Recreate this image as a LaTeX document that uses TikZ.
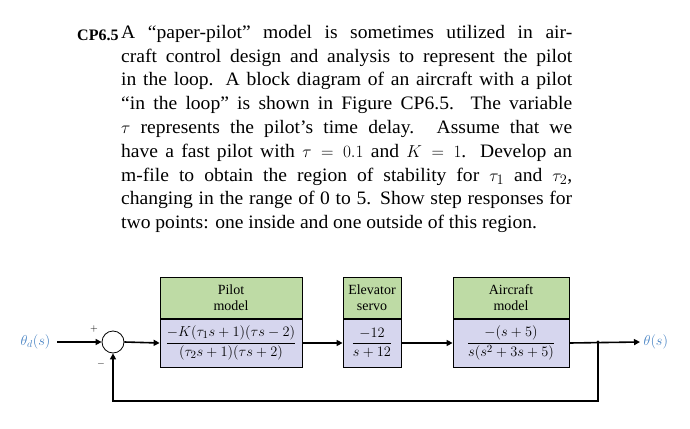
\documentclass[tikz,border=0pt]{standalone}
\usepackage{fontspec}
\setmainfont{Liberation Serif}
\usepackage{amsmath}
\usetikzlibrary{arrows.meta}
\definecolor{gtop}{RGB}{190,219,165}
\definecolor{pbot}{RGB}{214,214,238}
\definecolor{lab}{RGB}{70,130,195}
\tikzset{
  wire/.style={line width=1.6pt},
  arr/.style={wire,-{Triangle[length=6pt,width=6pt]}},
  topbox/.style={draw,line width=0.8pt,fill=gtop,minimum height=41pt,inner sep=0pt,font=\fontsize{14}{16}\selectfont,align=center},
  botbox/.style={draw,line width=0.8pt,fill=pbot,minimum height=48pt,inner sep=0pt,font=\fontsize{15.5}{17}\selectfont},
  sig/.style={text=lab,font=\fontsize{14}{16}\selectfont}
}
\begin{document}
\begin{tikzpicture}[x=1pt,y=-1pt]
\useasboundingbox (0,0) rectangle (690,428);
\node[anchor=base west,font=\fontsize{16}{22}\selectfont\bfseries,inner sep=0pt] (cp) at (77,41) {CP6.5};
\node[anchor=north west,inner sep=0pt] (txt) at (121,25) {\parbox{451pt}{\fontsize{19}{23.8}\selectfont\addfontfeature{FakeStretch=1.03}\hyphenpenalty=10000
A “paper-pilot” model is sometimes utilized in air-\linebreak
craft control design and analysis to represent the pilot\linebreak
in the loop. A block diagram of an aircraft with a pilot\linebreak
“in the loop” is shown in Figure CP6.5. The variable\linebreak
$\tau$ represents the pilot’s time delay. Assume that we\linebreak
have a fast pilot with $\tau=0.1$ and $K=1$. Develop an\linebreak
m-file to obtain the region of stability for $\tau_1$ and $\tau_2$,\linebreak
changing in the range of 0 to 5. Show step responses for\linebreak
two points: one inside and one outside of this region.}};
% blocks
\node[topbox,minimum width=142pt] (p1) at (231,298) {Pilot\\model};
\node[botbox,minimum width=142pt] (p2) at (231,343) {$\dfrac{-K(\tau_1 s+1)(\tau s-2)}{(\tau_2 s+1)(\tau s+2)}$};
\node[topbox,minimum width=58pt] (e1) at (372,298) {Elevator\\servo};
\node[botbox,minimum width=58pt] (e2) at (372,343) {$\dfrac{-12}{s+12}$};
\node[topbox,minimum width=116pt] (a1) at (511,298) {Aircraft\\model};
\node[botbox,minimum width=116pt] (a2) at (511,343) {$\dfrac{-(s+5)}{s(s^2+3s+5)}$};
\node[draw,circle,line width=0.8pt,minimum size=22pt,inner sep=0pt] (sum) at (113,342) {};
\node[sig,anchor=east] (in) at (54,342) {$\theta_d(s)$};
\node[sig,anchor=west] (out) at (640,342) {$\theta(s)$};
\node[font=\fontsize{10}{10}\selectfont] (plus) at (94,329) {$+$};
\node[font=\fontsize{10}{10}\selectfont] (minus) at (101,364) {$-$};
\coordinate (br) at (598,342);
\coordinate (fb) at (598,401);
\coordinate (fb2) at (113,401);
\coordinate (pin) at (57,342);
\draw[arr] (pin) -- (sum.west);
\draw[arr] (sum.east) -- (p2.west);
\draw[arr] (p2.east) -- (e2.west);
\draw[arr] (e2.east) -- (a2.west);
\draw[arr] (a2.east) -- (out.west);
\draw[arr] (br) -- (fb) -- (fb2) -- (sum.south);
\fill (br) circle (1.6pt);
\end{tikzpicture}
\end{document}
